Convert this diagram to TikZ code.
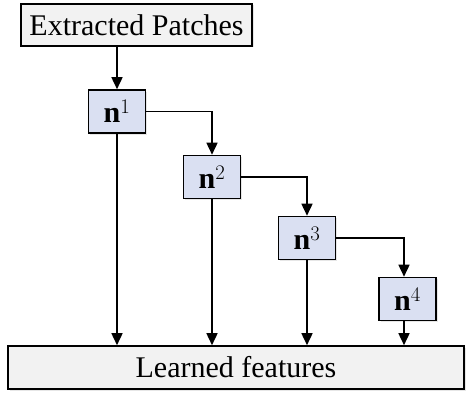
\documentclass[tikz,border=0pt]{standalone}
\usepackage{fontspec}
\setmainfont{Liberation Serif}
\usetikzlibrary{arrows.meta,shadows}
\definecolor{boxgray}{HTML}{F2F2F2}
\definecolor{boxblue}{HTML}{DAE0F2}
\tikzset{
  bigbox/.style={draw, line width=1.6pt, fill=boxgray, inner sep=0pt,
    drop shadow={shadow xshift=1.5pt, shadow yshift=-1.5pt, opacity=0.2},
    font=\fontsize{30}{34}\selectfont},
  nbox/.style={draw, line width=1.6pt, fill=boxblue, inner sep=0pt,
    minimum width=57pt, minimum height=43pt,
    drop shadow={shadow xshift=1.5pt, shadow yshift=-1.5pt, opacity=0.2},
    font=\fontsize{30}{34}\selectfont},
  conn/.style={line width=1.6pt, -{Triangle[length=12pt,width=11pt]}}
}
\begin{document}
\begin{tikzpicture}[x=1pt,y=1pt]
\useasboundingbox (0,0) rectangle (474,400);
\node[bigbox, minimum width=231pt, minimum height=42pt] (ep) at (136.5,375) {Extracted Patches};
\node[nbox] (n1) at (117,288.5) {\textbf{n}$^{1}$};
\node[nbox] (n2) at (212,223) {\textbf{n}$^{2}$};
\node[nbox] (n3) at (307,162) {\textbf{n}$^{3}$};
\node[nbox] (n4) at (407.5,101) {\textbf{n}$^{4}$};
\node[bigbox, minimum width=456pt, minimum height=43pt] (lf) at (236,32.5) {Learned features};
\draw[conn] (ep.south -| n1) -- (n1.north);
\draw[conn] (n1.east) -| (n2.north);
\draw[conn] (n2.east) -| (n3.north);
\draw[conn] (n3.east) -| ([xshift=-3.5pt]n4.north);
\draw[conn] (n1.south) -- (n1.south |- lf.north);
\draw[conn] (n2.south) -- (n2.south |- lf.north);
\draw[conn] (n3.south) -- (n3.south |- lf.north);
\draw[conn] ([xshift=-3.5pt]n4.south) -- ([xshift=-3.5pt]n4.south |- lf.north);
\end{tikzpicture}
\end{document}
